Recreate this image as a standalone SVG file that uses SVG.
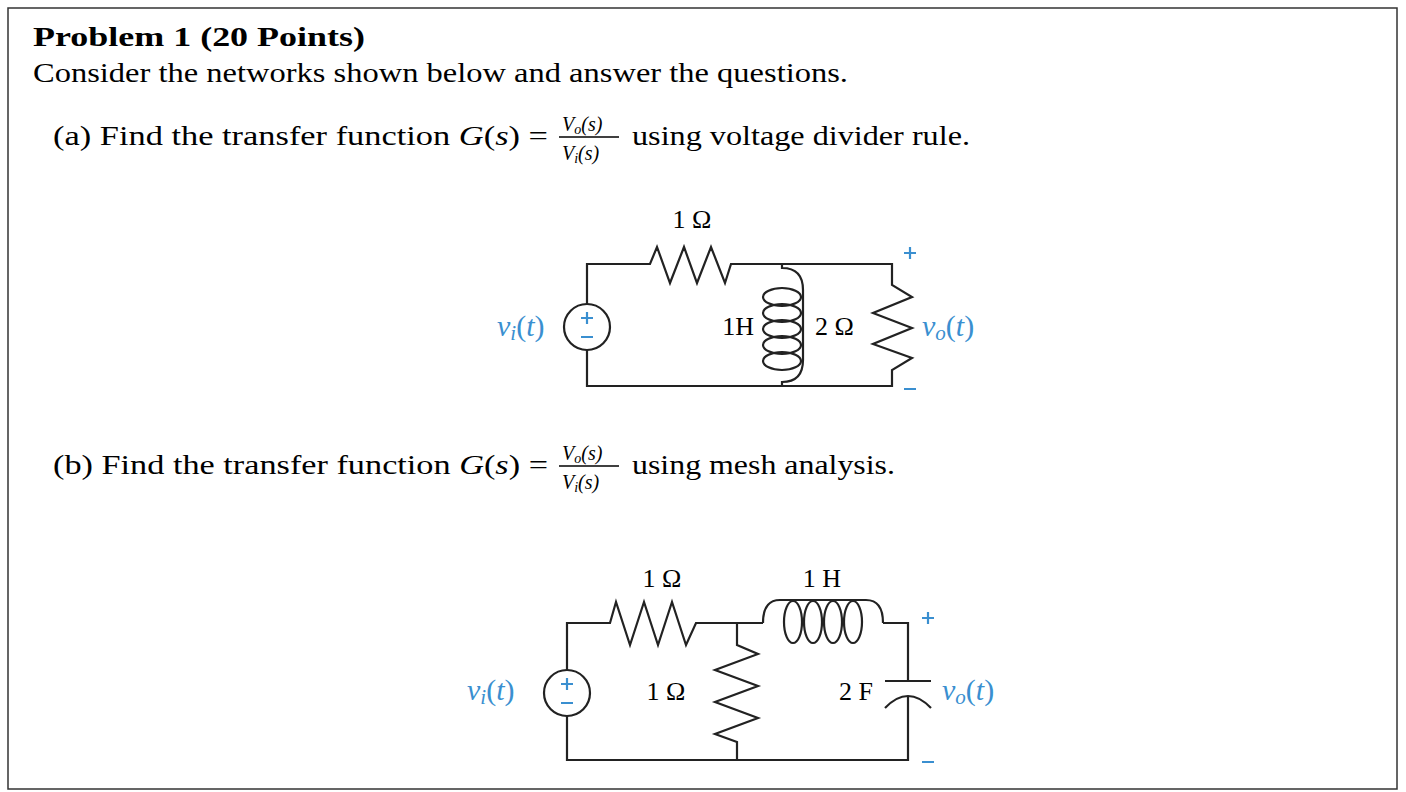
<svg xmlns="http://www.w3.org/2000/svg" width="1406" height="792" viewBox="0 0 1406 792">
<style>
.t{font-family:"Liberation Serif","DejaVu Serif",serif;fill:#000}
.b{font-family:"Liberation Serif",serif;fill:#3a8fd0;font-style:italic;font-size:30px}
.w{fill:none;stroke:#222;stroke-width:2.2}
.pm{fill:none;stroke:#3a8fd0;stroke-width:2.2}
</style>
<rect x="8" y="8" width="1389" height="781" fill="#fff" stroke="#333" stroke-width="1.5"/>
<g id="text">
<text class="t" x="33" y="46" font-size="28" font-weight="bold" textLength="332" lengthAdjust="spacingAndGlyphs">Problem 1 (20 Points)</text>
<text class="t" x="33" y="82" font-size="28" textLength="815" lengthAdjust="spacingAndGlyphs">Consider the networks shown below and answer the questions.</text>
<text class="t" x="53" y="145" font-size="28" textLength="495" lengthAdjust="spacingAndGlyphs">(a)  Find the transfer function <tspan font-style="italic">G</tspan>(<tspan font-style="italic">s</tspan>) =</text>
<text class="t" x="562" y="131" font-size="20" font-style="italic">V<tspan font-size="14" dy="3">o</tspan><tspan dy="-3">(s)</tspan></text>
<line x1="559" y1="137" x2="619" y2="137" stroke="#000" stroke-width="1.3"/>
<text class="t" x="562" y="160" font-size="20" font-style="italic">V<tspan font-size="14" dy="3">i</tspan><tspan dy="-3">(s)</tspan></text>
<text class="t" x="632" y="145" font-size="28" textLength="338" lengthAdjust="spacingAndGlyphs">using voltage divider rule.</text>
<text class="t" x="53" y="474" font-size="28" textLength="495" lengthAdjust="spacingAndGlyphs">(b)  Find the transfer function <tspan font-style="italic">G</tspan>(<tspan font-style="italic">s</tspan>) =</text>
<text class="t" x="562" y="460" font-size="20" font-style="italic">V<tspan font-size="14" dy="3">o</tspan><tspan dy="-3">(s)</tspan></text>
<line x1="559" y1="466" x2="619" y2="466" stroke="#000" stroke-width="1.3"/>
<text class="t" x="562" y="489" font-size="20" font-style="italic">V<tspan font-size="14" dy="3">i</tspan><tspan dy="-3">(s)</tspan></text>
<text class="t" x="632" y="474" font-size="28" textLength="263" lengthAdjust="spacingAndGlyphs">using mesh analysis.</text>
</g>
<g id="circuitA">
<path class="w" d="M587 304 V264 H650 L657 247 L670 283 L684 247 L697 283 L711 247 L725 283 L731 264 H892 V285 L912 297 L873 313 L912 328 L873 344 L912 358 L892 370 V386 H587 V350"/>
<circle class="w" cx="587" cy="327" r="23"/>
<path class="pm" d="M581 318 H593 M587 312 V324 M581 337 H593"/>
<path class="w" d="M782 264 V268 Q803 268 803 290 V360 Q803 382 782 382 V386"/>
<g class="w"><ellipse cx="782" cy="297" rx="19" ry="9"/><ellipse cx="782" cy="313" rx="19" ry="9"/><ellipse cx="782" cy="329" rx="19" ry="9"/><ellipse cx="782" cy="345" rx="19" ry="9"/><ellipse cx="782" cy="361" rx="19" ry="9"/></g>
<text class="t" x="692" y="228" font-size="26" text-anchor="middle">1 Ω</text>
<text class="t" x="754" y="335" font-size="26" text-anchor="end">1H</text>
<text class="t" x="815" y="335" font-size="26">2 Ω</text>
<text class="b" x="497" y="336">v<tspan font-size="21" dy="4">i</tspan><tspan dy="-4" font-style="normal">(</tspan>t<tspan font-style="normal">)</tspan></text>
<text class="b" x="922" y="336">v<tspan font-size="21" dy="4">o</tspan><tspan dy="-4" font-style="normal">(</tspan>t<tspan font-style="normal">)</tspan></text>
<path class="pm" d="M904 253 H916 M910 247 V259 M904 389 H916"/>
</g>
<g id="circuitB">
<path class="w" d="M567 670 V623 H610 L616 602 L630 645 L644 602 L658 645 L672 602 L686 645 L696 623 H763 M883 623 H908 V681 M908 697 V760 H567 V716 M737 623 V645 L758 654 L715 670 L758 686 L715 702 L758 718 L715 734 L737 742 V760"/>
<circle class="w" cx="567" cy="693" r="23"/>
<path class="pm" d="M561 684 H573 M567 678 V690 M561 703 H573"/>
<path class="w" d="M763 623 Q763 600 780 600 H866 Q883 600 883 623"/>
<g class="w"><ellipse cx="793" cy="622" rx="9" ry="21"/><ellipse cx="813" cy="622" rx="9" ry="21"/><ellipse cx="833" cy="622" rx="9" ry="21"/><ellipse cx="853" cy="622" rx="9" ry="21"/></g>
<path class="w" d="M885 681 H931 M885 708 Q908 684 931 708"/>
<text class="t" x="662" y="587" font-size="26" text-anchor="middle">1 Ω</text>
<text class="t" x="822" y="587" font-size="26" text-anchor="middle">1 H</text>
<text class="t" x="666" y="700" font-size="26" text-anchor="middle">1 Ω</text>
<text class="t" x="873" y="700" font-size="26" text-anchor="end">2 F</text>
<text class="b" x="467" y="700">v<tspan font-size="21" dy="4">i</tspan><tspan dy="-4" font-style="normal">(</tspan>t<tspan font-style="normal">)</tspan></text>
<text class="b" x="942" y="700">v<tspan font-size="21" dy="4">o</tspan><tspan dy="-4" font-style="normal">(</tspan>t<tspan font-style="normal">)</tspan></text>
<path class="pm" d="M922 618 H934 M928 612 V624 M922 762 H934"/>
</g>
</svg>
